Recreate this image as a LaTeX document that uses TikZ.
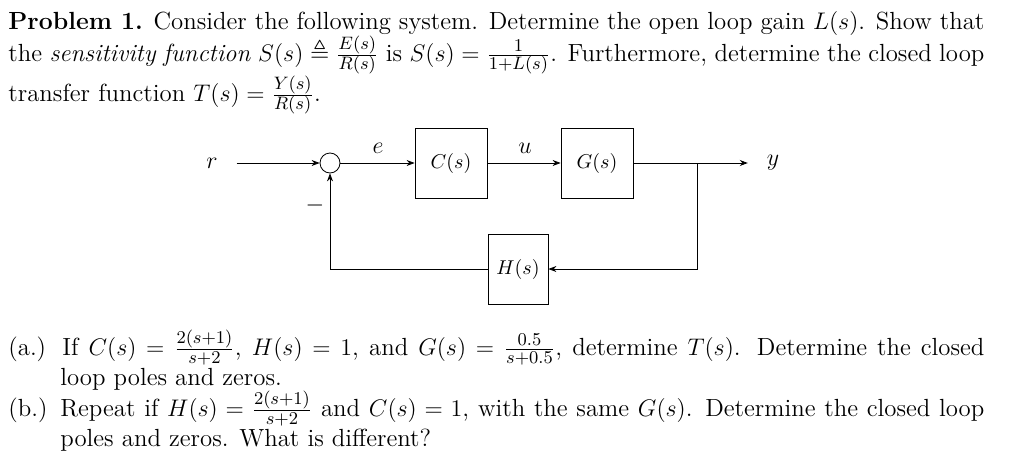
\documentclass[tikz,border=0pt]{standalone}
\usepackage{amsmath,amssymb}
\usetikzlibrary{arrows.meta}
\newcommand{\fl}[1]{\makebox[488pt][s]{#1}}
\begin{document}
\begin{tikzpicture}[x=0.5pt,y=-0.5pt,
  blk/.style={draw,minimum width=36pt,minimum height=35pt,inner sep=0pt},
  txt/.style={anchor=base west,inner sep=0pt,font=\fontsize{12.4}{14}\selectfont},
  lbl/.style={font=\fontsize{12.4}{14}\selectfont},
  arr/.style={-{Stealth[length=4pt,width=3pt]}}]
\useasboundingbox (0,0) rectangle (1011,466);
\node[txt] (l1) at (8,29) {\fl{\textbf{Problem 1.} Consider the following system. Determine the open loop gain $L(s)$. Show that}};
\node[txt] (l2) at (8,61) {\fl{the \textit{sensitivity function} $S(s)\triangleq\frac{E(s)}{R(s)}$ is $S(s)=\frac{1}{1+L(s)}$. Furthermore, determine the closed loop}};
\node[txt] (l3) at (8,101) {transfer function $T(s)=\frac{Y(s)}{R(s)}$.};
\node[lbl] (r) at (212,163) {$r$};
\node[draw,circle,minimum size=10pt,inner sep=0pt] (sum) at (330,163) {};
\node[blk] (C) at (451,163) {$C(s)$};
\node[blk] (G) at (597,163) {$G(s)$};
\node[blk,minimum width=30pt] (H) at (518,269) {$H(s)$};
\node[lbl] (y) at (773,163) {$y$};
\node[lbl] (e) at (378,148) {$e$};
\node[lbl] (u) at (525,148) {$u$};
\node[lbl] (m) at (315,205) {$-$};
\coordinate (br) at (697,163);
\draw[arr] (r.east)++(12,0) coordinate (rs) -- (sum.west);
\draw[arr] (sum.east) -- (C.west);
\draw[arr] (C.east) -- (G.west);
\draw[arr] (G.east) -- ([xshift=-6pt]y.west);
\draw[arr] (br) |- (H.east);
\draw[arr] (H.west) -| (sum.south);
\node[txt] (a1) at (8,355) {\fl{(a.) If $C(s)=\frac{2(s+1)}{s+2}$, $H(s)=1$, and $G(s)=\frac{0.5}{s+0.5}$, determine $T(s)$. Determine the closed}};
\node[txt] (a2) at (60,385) {loop poles and zeros.};
\node[txt] (b1) at (8,416) {\fl{(b.) Repeat if $H(s)=\frac{2(s+1)}{s+2}$ and $C(s)=1$, with the same $G(s)$. Determine the closed loop}};
\node[txt] (b2) at (60,446) {poles and zeros. What is different?};
\end{tikzpicture}
\end{document}
